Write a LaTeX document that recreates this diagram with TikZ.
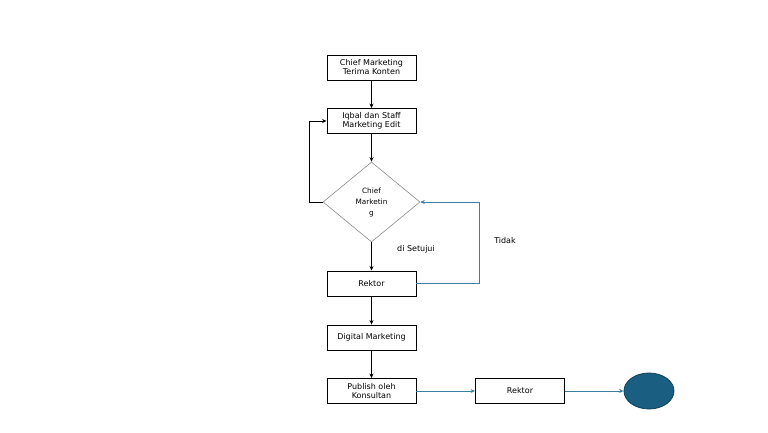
\documentclass[tikz,border=0pt]{standalone}
\usepackage{fontspec}
\setmainfont{DejaVu Sans}
\usepackage{xcolor}
\definecolor{LineBlue}{HTML}{3A7FA6}
\definecolor{EndFill}{HTML}{1A5E82}
\definecolor{EndDraw}{HTML}{0F3F58}
\definecolor{DiaGray}{HTML}{8A8A8A}
\usepackage{tikz}
\usetikzlibrary{arrows.meta, shapes.geometric}
\tikzset{
  box/.style={
    rectangle, draw=black, line width=0.9pt,
    minimum width=89pt, minimum height=25pt,
    align=center, inner sep=1pt, font=\fontsize{8}{9}\selectfont
  },
  dia/.style={
    diamond, draw=DiaGray, line width=0.6pt, aspect=1.2,
    minimum width=97pt, minimum height=80pt,
    align=center, inner sep=0pt, font=\fontsize{7.3}{11}\selectfont
  },
  arr/.style={-{Stealth[length=4.5pt, width=4pt]}, line width=0.9pt, color=black},
  bArr/.style={-{Stealth[length=4.5pt, width=4pt]}, line width=0.9pt, color=LineBlue},
  lbl/.style={font=\fontsize{8}{9}\selectfont},
}
\begin{document}
\begin{tikzpicture}[x=1pt, y=-1pt]

% page frame: 768 x 433 like the reference
\useasboundingbox (0,0) rectangle (768,433);

% main column at x=371.5
\node[box] at (371.5,67.5) (chief) {Chief Marketing\\Terima Konten};
\node[box] at (371.5,121) (edit) {Iqbal dan Staff\\Marketing Edit};
\node[dia] at (371.5,202) (cek) {Chief\\Marketin\\g};
\node[box] at (371.5,283.5) (rektor) {Rektor};
\node[box] at (371.5,337.5) (digital) {Digital Marketing};
\node[box] at (371.5,391) (publish) {Publish oleh\\Konsultan};

% bottom row
\node[box] at (520,391) (rektorB) {Rektor};
\node[ellipse, draw=EndDraw, fill=EndFill, line width=0.8pt,
      minimum width=50pt, minimum height=36pt] at (649,391) (akhir) {};

% labels
\node[lbl] at (416,249) (setuju) {di Setujui};
\node[lbl] at (505,241) (tidak) {Tidak};

% connectors
\draw[arr] (chief) -- (edit);
\draw[arr] (edit) -- (cek);
\draw[arr] (cek) -- (rektor);
\draw[arr] (rektor) -- (digital);
\draw[arr] (digital) -- (publish);
\draw[arr] (cek.west) -- ++(-13,0) |- (edit.west);
\draw[bArr] (rektor.east) -- ++(63,0) |- (cek.east);
\draw[bArr] (publish) -- (rektorB);
\draw[bArr] (rektorB) -- (akhir);

\end{tikzpicture}
\end{document}
